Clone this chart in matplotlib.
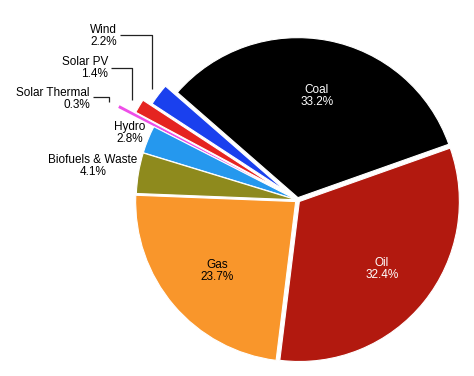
import matplotlib

matplotlib.use("Agg")
import matplotlib.pyplot as plt

sources = ["Coal", "Wind", "Solar PV", "Solar Thermal", "Hydro", "Biofuels & Waste", "Gas", "Oil"]
shares = [33.2, 2.2, 1.4, 0.3, 2.8, 4.1, 23.7, 32.4]
colors = ["#000000", "#1a40ee", "#e52421", "#ee4ee8", "#2598ee", "#8e8a1d", "#f9962b", "#b2190f"]
explode = [0.015, 0.09, 0.15, 0.26, 0.008, 0.008, 0.015, 0.015]  # fraction of radius

W, H = 474, 376
CX, CY, R = 297.5, 200, 160  # pie centre / radius in image pixels (y from top)

# label anchors in image pixels: (x, y, ha, text colour)
label_pos = {
    "Coal": (317, 96, "center", "white"),
    "Oil": (382, 269, "center", "white"),
    "Gas": (217, 271, "center", "black"),
    "Biofuels & Waste": (93, 166, "center", "black"),
    "Hydro": (130, 133, "center", "black"),
    "Solar Thermal": (90, 99, "right", "black"),
    "Solar PV": (108, 68, "right", "black"),
    "Wind": (117, 36, "right", "black"),
}
# leader lines for the pulled-out slices, image pixels
leaders = {
    "Solar Thermal": [(93, 97), (109, 97), (109, 102)],
    "Solar PV": [(111, 68), (132, 68), (132, 100)],
    "Wind": [(120, 35), (152, 35), (152, 89)],
}

plt.rcParams["font.family"] = ["Liberation Sans", "DejaVu Sans"]

fig = plt.figure(figsize=(W / 100, H / 100), dpi=100)
ax = fig.add_axes([0, 0, 1, 1])
wedges, _ = ax.pie(
    shares,
    explode=[e * R for e in explode],
    colors=colors,
    startangle=19.5,
    counterclock=True,
    radius=R,
    center=(CX, H - CY),
    wedgeprops=dict(edgecolor="white", linewidth=0.8),
    frame=False,
)
# the sliver would vanish under a white outline
wedges[sources.index("Solar Thermal")].set_linewidth(0)

ax.set_xlim(0, W)
ax.set_ylim(0, H)
ax.axis("off")

for name, value in zip(sources, shares):
    x, y, ha, tc = label_pos[name]
    ax.text(x, H - y, f"{name}\n{value:.1f}%", ha=ha, va="center", multialignment=ha,
            color=tc, fontsize=8.5, linespacing=1.1)

for name, pts in leaders.items():
    ax.plot([p[0] for p in pts], [H - p[1] for p in pts], color="#222222", linewidth=0.9,
            solid_capstyle="butt")

fig.savefig("out.png", dpi=100, facecolor="white")
